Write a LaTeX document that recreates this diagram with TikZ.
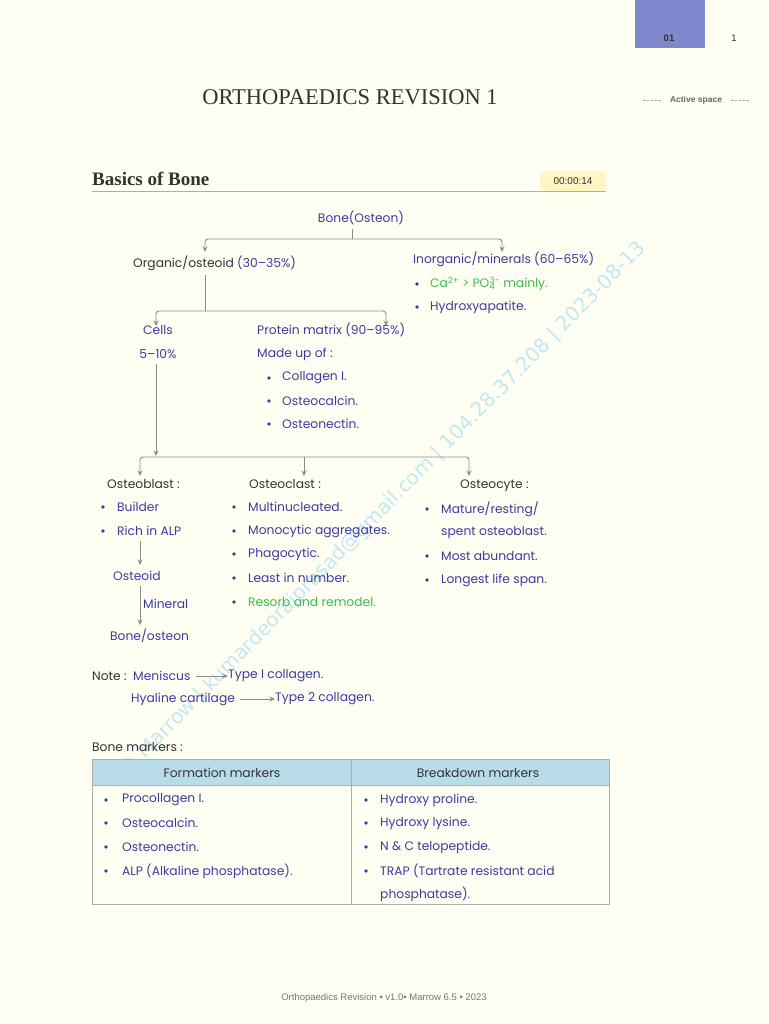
\documentclass[tikz,border=0pt]{standalone}
\usepackage{fontspec}
\setmainfont{Poppins}
\newfontfamily\serif{Liberation Serif}
\newfontfamily\sans{Liberation Sans}
\newfontfamily\wmfont{DejaVu Sans}
\usetikzlibrary{arrows.meta}
\definecolor{bg}{HTML}{FFFEF2}
\definecolor{ink}{HTML}{3C3CA0}
\definecolor{blk}{HTML}{333333}
\definecolor{grn}{HTML}{3DBB4E}
\definecolor{arr}{HTML}{8C8C8C}
\definecolor{tab}{HTML}{7F88CC}
\definecolor{hdr}{HTML}{B9DCE9}
\definecolor{wm}{HTML}{C2E8F3}
\definecolor{badge}{HTML}{FFF6C2}
\tikzset{
  hw/.style={font=\fontsize{12.3}{14}\selectfont, inner sep=0pt, anchor=west, text=ink},
  hwb/.style={hw, text=blk},
  hwg/.style={hw, text=grn},
  hwc/.style={hw, anchor=center},
  dot/.style={circle, fill=ink, inner sep=0pt, minimum size=3.8pt},
  conn/.style={draw=arr, line width=0.9pt, rounded corners=3pt},
  tip/.style={-{Stealth[length=5.5pt,width=5pt]}},
  dashes/.style={arr!70, line width=0.5pt, dash pattern=on 2.6pt off 1.2pt},
}
\begin{document}
\begin{tikzpicture}[x=1pt,y=-1pt]
\fill[bg] (0,0) rectangle (768,1024);
\useasboundingbox (0,0) rectangle (768,1024);
% top tab
\fill[tab] (635,0) rectangle (705,48);
\node[font=\sans\fontsize{9.5}{10}\selectfont\bfseries, text=blk] (tabnum) at (669,38) {01};
\node[font=\sans\fontsize{9.5}{10}\selectfont, text=blk] (pgnum) at (734,38) {1};
\node[font=\serif\fontsize{22.5}{26}\selectfont, text=blk] (title) at (350,97) {ORTHOPAEDICS REVISION 1};
\node[font=\sans\fontsize{8.5}{9}\selectfont\bfseries, text=blk!75, inner sep=0pt] (active) at (696,100) {Active space};
\draw[dashes] (643,100.5) -- (662,100.5);
\draw[dashes] (731,100.5) -- (750,100.5);
% section heading
\node[font=\serif\fontsize{19}{22}\selectfont\bfseries, text=blk, anchor=west, inner sep=0pt] (basics) at (92,179) {Basics of Bone};
\draw[arr!70, line width=1pt] (92,192) -- (606,192);
\node[fill=badge, rounded corners=6pt, minimum width=66pt, minimum height=20pt, font=\sans\fontsize{10}{11}\selectfont, text=blk] (timer) at (573,181) {00:00:14};
% watermark
\node[font=\wmfont\fontsize{20}{22}\selectfont, text=wm, rotate=45.5] (wmark) at (383,510) {© Marrow | kumardeorajprasad@gmail.com | 104.28.37.208 | 2023-08-13};
% tree level 1
\node[hwc] (bone) at (361,218) {Bone(Osteon)};
\node[hwb] (org) at (133,263) {Organic/osteoid \textcolor{ink}{(30–35\%)}};
\node[hw] (inorg) at (413,259) {Inorganic/minerals (60–65\%)};
\node[dot] (d1) at (417,284) {};
\node[hwg] (ca) at (430,284) {Ca\textsuperscript{2+} > PO\textsubscript{4}\kern-0.45em\textsuperscript{3-} mainly.};
\node[dot] (d2) at (417,307) {};
\node[hw] (hap) at (430,307) {Hydroxyapatite.};
\coordinate (j0) at (352,229);
\coordinate (j1) at (352,239);
\coordinate (j1l) at (205,252);
\coordinate (j1r) at (502,252);
\draw[conn] (j0) -- (j1);
\draw[conn,tip] (j1) -| (j1l);
\draw[conn,tip] (j1) -| (j1r);
% level 2
\node[hwc] (cells) at (158,330) {Cells};
\node[hwc] (pct) at (158,354) {5–10\%};
\node[hw] (prot) at (257,330) {Protein matrix (90–95\%)};
\node[hw] (made) at (257,354) {Made up of :};
\node[dot] (d3) at (269,378) {}; \node[hw] (col) at (282,378) {Collagen I.};
\node[dot] (d4) at (269,401) {}; \node[hw] (ocal) at (282,401) {Osteocalcin.};
\node[dot] (d5) at (269,424) {}; \node[hw] (onec) at (282,424) {Osteonectin.};
\coordinate (j2t) at (205,275);
\coordinate (j2) at (205,311);
\coordinate (j2l) at (156,326);
\coordinate (j2r) at (386,326);
\draw[conn] (j2t) -- (j2);
\draw[conn,tip] (j2) -| (j2l);
\draw[conn,tip] (j2) -| (j2r);
% cells to level 3
\coordinate (c0) at (156,364);
\coordinate (c1e) at (156,456);
\draw[conn,tip] (c0) -- (c1e);
\coordinate (j3) at (304,457);
\coordinate (j3l) at (140,476);
\coordinate (j3m) at (304,476);
\coordinate (j3r) at (469,476);
\draw[conn,tip] (j3) -| (j3l);
\draw[conn,tip] (j3) -| (j3r);
\draw[conn,tip] (j3) -- (j3m);
% level 3
\node[hwb] (oblast) at (107,484) {Osteoblast :};
\node[hwb] (oclast) at (249,484) {Osteoclast :};
\node[hwb] (ocyte) at (460,486) {Osteocyte :};
\node[dot] (b1) at (103,507) {}; \node[hw] (build) at (117,507) {Builder};
\node[dot] (b2) at (103,531) {}; \node[hw] (alp) at (117,531) {Rich in ALP};
\node[hw] (osteoid) at (113,576) {Osteoid};
\node[hw] (mineral) at (143,604) {Mineral};
\node[hw] (boneo) at (110,636) {Bone/osteon};
\coordinate (a1) at (140,541);
\coordinate (a2) at (140,565);
\coordinate (a3) at (140,586);
\coordinate (a4) at (140,625);
\draw[conn,tip] (a1) -- (a2);
\draw[conn,tip] (a3) -- (a4);
\node[dot] (c1) at (234,507) {}; \node[hw] (multi) at (248,507) {Multinucleated.};
\node[dot] (c2) at (234,531) {}; \node[hw] (mono) at (248,531) {Monocytic aggregates.};
\node[dot] (c3) at (234,554) {}; \node[hw] (phago) at (248,554) {Phagocytic.};
\node[dot] (c4) at (234,578) {}; \node[hw] (least) at (248,578) {Least in number.};
\node[dot] (c5) at (234,602) {}; \node[hwg] (resorb) at (248,602) {Resorb and remodel.};
\node[dot] (e1) at (427,509) {}; \node[hw] (mature) at (441,509) {Mature/resting/};
\node[hw] (spent) at (441,533) {spent osteoblast.};
\node[dot] (e2) at (427,556) {}; \node[hw] (most) at (441,556) {Most abundant.};
\node[dot] (e3) at (427,580) {}; \node[hw] (longest) at (441,580) {Longest life span.};
% note
\node[hwb] (note) at (92,676) {Note :};
\node[hw] (menis) at (133,676) {Meniscus};
\node[hw] (type1) at (228,676) {Type I collagen.};
\draw[conn,tip] ([xshift=5pt]menis.east) -- (type1.west);
\node[hw] (hyal) at (131,699) {Hyaline cartilage};
\node[hw] (type2) at (275,699) {Type 2 collagen.};
\draw[conn,tip] ([xshift=5pt]hyal.east) -- (type2.west);
% table
\node[hwb] (bm) at (92,747) {Bone markers :};
\fill[hdr] (92,759) rectangle (609,785);
\draw[arr!70, line width=0.8pt] (92,759) rectangle (609,904);
\draw[arr!70, line width=0.8pt] (92,785) -- (609,785);
\draw[arr!70, line width=0.8pt] (351,759) -- (351,904);
\node[hwc, text=blk] (fm) at (222,773) {Formation markers};
\node[hwc, text=blk] (bdm) at (478,773) {Breakdown markers};
\node[dot] (f1) at (106,800) {}; \node[hw] (proc) at (122,800) {Procollagen I.};
\node[dot] (f2) at (106,823) {}; \node[hw] (ocal2) at (122,823) {Osteocalcin.};
\node[dot] (f3) at (106,847) {}; \node[hw] (onec2) at (122,847) {Osteonectin.};
\node[dot] (f4) at (106,871) {}; \node[hw] (alp2) at (122,871) {ALP (Alkaline phosphatase).};
\node[dot] (g1) at (366,800) {}; \node[hw] (hp) at (380,800) {Hydroxy proline.};
\node[dot] (g2) at (366,823) {}; \node[hw] (hl) at (380,823) {Hydroxy lysine.};
\node[dot] (g3) at (366,847) {}; \node[hw] (nc) at (380,847) {N \& C telopeptide.};
\node[dot] (g4) at (366,871) {}; \node[hw] (trap) at (380,871) {TRAP (Tartrate resistant acid};
\node[hw] (phos) at (380,894) {phosphatase).};
% footer
\node[font=\sans\fontsize{9.5}{10}\selectfont, text=arr!120] (footer) at (384,998) {Orthopaedics Revision • v1.0• Marrow 6.5 • 2023};
\end{tikzpicture}
\end{document}
